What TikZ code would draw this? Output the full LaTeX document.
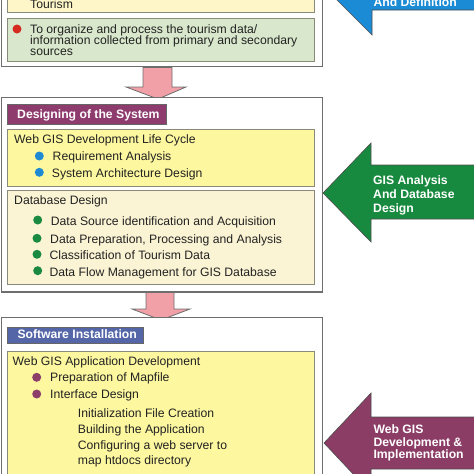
\documentclass[tikz,border=0pt]{standalone}
\usepackage{fontspec}
\setmainfont{Liberation Sans}
\definecolor{outergray}{HTML}{6E6E6E}
\definecolor{innergray}{HTML}{8A8A7A}
\definecolor{paleyellow}{HTML}{FEF6C8}
\definecolor{sage}{HTML}{D9E8CC}
\definecolor{brightyellow}{HTML}{FDF8A0}
\definecolor{cream}{HTML}{FBF4D4}
\definecolor{plum}{HTML}{8E3C6E}
\definecolor{steel}{HTML}{5466A8}
\definecolor{pinkfill}{HTML}{F2A0A8}
\definecolor{bluearrow}{HTML}{1A8BD4}
\definecolor{greenarrow}{HTML}{188A3F}
\definecolor{purplearrow}{HTML}{8C3D66}
\definecolor{bulletred}{HTML}{D42A20}
\definecolor{bulletblue}{HTML}{1E8AD2}
\definecolor{bulletgreen}{HTML}{1A8A40}
\definecolor{bulletpurple}{HTML}{8C3F68}
\definecolor{textdark}{HTML}{222222}
\tikzset{
  outerbox/.style={draw=outergray,line width=1.3pt,fill=white},
  innerbox/.style={draw=innergray,line width=1pt},
  txt/.style={anchor=base west,inner sep=0pt,text=textdark,font=\fontsize{12.2}{14}\selectfont},
  titletxt/.style={anchor=base west,inner sep=0pt,text=white,font=\bfseries\fontsize{12.2}{14}\selectfont},
  arrowtxt/.style={anchor=base west,inner sep=0pt,text=white,font=\bfseries\fontsize{12.2}{14}\selectfont},
  downarrow/.style={fill=pinkfill,draw=outergray,line width=0.8pt},
  sidearrow/.style={draw=black!70,line width=0.6pt},
  dot/.style={circle,inner sep=0pt,minimum size=9pt}
}
\begin{document}
\begin{tikzpicture}[x=1pt,y=-1pt]
\useasboundingbox (0,0) rectangle (474,474);
\begin{scope}
\clip (0,0) rectangle (474,474);
% ---------- top section ----------
\draw[outerbox] (1.5,-10) rectangle (322.5,66.7);
\draw[innerbox,fill=paleyellow] (7.5,-10) rectangle (314.3,12.7);
\node[txt] (tourism) at (30,8.3) {Tourism};
\draw[innerbox,fill=sage] (7.5,18.3) rectangle (314.3,61);
\node[dot,fill=bulletred] (rdot) at (17,29) {};
\node[txt] (org1) at (30,33.4) {To organize and process the tourism data/};
\node[txt] (org2) at (30,44.6) {information collected from primary and secondary};
\node[txt] (org3) at (30,55.6) {sources};
% pink arrow 1
\draw[downarrow] (143,67.5) -- (172,67.5) -- (172,87) -- (186,87) -- (158,99) -- (126,87) -- (143,87) -- cycle;
% ---------- middle section ----------
\draw[outerbox] (1.5,97.5) rectangle (322.5,292);
\draw[draw=black!60,fill=plum] (7.5,104) rectangle (166,124);
\node[titletxt] (design) at (17,118.3) {Designing of the System};
\draw[innerbox,fill=brightyellow] (7.5,129) rectangle (314.3,186);
\node[txt] (wgdlc) at (14,143.3) {Web GIS Development Life Cycle};
\node[dot,fill=bulletblue] (b1) at (39.3,156) {};
\node[txt] (req) at (52.5,160.7) {Requirement Analysis};
\node[dot,fill=bulletblue] (b2) at (39.3,172.3) {};
\node[txt] (sad) at (51.7,177.3) {System Architecture Design};
\draw[innerbox,fill=cream] (7.5,190) rectangle (314.3,284);
\node[txt] (dbd) at (14,204) {Database Design};
\node[dot,fill=bulletgreen] (g1) at (37.7,220) {};
\node[txt] (ds) at (50.7,225) {Data Source identification and Acquisition};
\node[dot,fill=bulletgreen] (g2) at (37,238.3) {};
\node[txt] (dp) at (50,243.3) {Data Preparation, Processing and Analysis};
\node[dot,fill=bulletgreen] (g3) at (37,254.3) {};
\node[txt] (ct) at (49.3,259.5) {Classification of Tourism Data};
\node[dot,fill=bulletgreen] (g4) at (37.7,270.7) {};
\node[txt] (df) at (49.3,276) {Data Flow Management for GIS Database};
% pink arrow 2
\draw[downarrow] (146,292.5) -- (174,292.5) -- (174,309) -- (190,309) -- (161,320) -- (132,309) -- (146,309) -- cycle;
% ---------- bottom section ----------
\draw[outerbox] (1.5,317.5) rectangle (322.5,490);
\draw[draw=black!60,fill=steel] (7.5,327) rectangle (143,343);
\node[titletxt] (soft) at (17.3,338.3) {Software Installation};
\draw[innerbox,fill=brightyellow] (7.5,351) rectangle (314.3,490);
\node[txt] (wgad) at (12.5,365) {Web GIS Application Development};
\node[dot,fill=bulletpurple] (p1) at (36.7,377.3) {};
\node[txt] (prep) at (50,381.7) {Preparation of Mapfile};
\node[dot,fill=bulletpurple] (p2) at (36.7,394) {};
\node[txt] (intf) at (50,398.3) {Interface Design};
\node[txt] (init) at (77.7,417.3) {Initialization File Creation};
\node[txt] (build) at (77.7,433.3) {Building the Application};
\node[txt] (conf1) at (77.7,449) {Configuring a web server to};
\node[txt] (conf2) at (77.7,464.3) {map htdocs directory};
% ---------- right side arrows ----------
\draw[sidearrow,fill=bluearrow] (324,-13) -- (372,-61) -- (372,-36) -- (480,-36) -- (480,10) -- (372,10) -- (372,35) -- cycle;
\node[arrowtxt] (defn) at (373.3,6.7) {And Definition};
\draw[sidearrow,fill=greenarrow] (323,193) -- (371,143) -- (371,165) -- (480,165) -- (480,219) -- (371,219) -- (371,242) -- cycle;
\node[arrowtxt] (ga1) at (373,184.3) {GIS Analysis};
\node[arrowtxt] (ga2) at (373,198.3) {And Database};
\node[arrowtxt] (ga3) at (373,212) {Design};
\draw[sidearrow,fill=purplearrow] (324,443) -- (371,393) -- (371,417) -- (480,417) -- (480,469) -- (371,469) -- (371,493) -- cycle;
\node[arrowtxt] (wd1) at (373.3,433.7) {Web GIS};
\node[arrowtxt] (wd2) at (373.3,446.7) {Development \&};
\node[arrowtxt] (wd3) at (373.3,458.3) {Implementation};
\end{scope}
\end{tikzpicture}
\end{document}
